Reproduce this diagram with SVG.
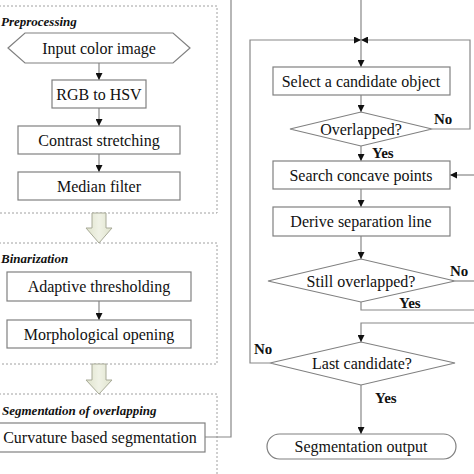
<svg xmlns="http://www.w3.org/2000/svg" width="474" height="474" viewBox="0 0 474 474">
<defs>
<marker id="ah" viewBox="0 0 10 10" refX="10" refY="5" markerWidth="7" markerHeight="7" orient="auto" markerUnits="userSpaceOnUse"><path d="M0,0 L10,5 L0,10 z" fill="#111"/></marker>
<linearGradient id="bg" x1="0" y1="0" x2="1" y2="0"><stop offset="0" stop-color="#dfe3cc"/><stop offset="0.5" stop-color="#f0f2e6"/><stop offset="1" stop-color="#dfe3cc"/></linearGradient>
</defs>
<style>
.t{font-size:16px;fill:#111;text-anchor:middle}
.b{font-size:15px;font-weight:bold;fill:#111}
.h{font-size:13px;font-weight:bold;font-style:italic;fill:#111}
.box{fill:#fff;stroke:#808080;stroke-width:1.2}
.grp{fill:none;stroke:#a0a0a0;stroke-width:1;stroke-dasharray:2,2}
.c{fill:none;stroke:#888;stroke-width:1.2}
.ca{fill:none;stroke:#888;stroke-width:1.2;marker-end:url(#ah)}
.blk{fill:url(#bg);stroke:#a8aa98;stroke-width:1}
</style>
<rect width="474" height="474" fill="#fff"/>
<g id="groups">
<rect class="grp" x="-5" y="6" width="222" height="207"/>
<text class="h" x="1" y="26" font-family="Liberation Serif">Preprocessing</text>
<rect class="grp" x="-5" y="243" width="222" height="121"/>
<text class="h" x="1" y="263" font-family="Liberation Serif">Binarization</text>
<rect class="grp" x="-5" y="394" width="222" height="90"/>
<text class="h" x="2" y="415" font-family="Liberation Serif">Segmentation of overlapping</text>
</g>
<g id="block-arrows">
<path class="blk" d="M92,213 L106,213 L106,228 L112,228 L99,243 L86,228 L92,228 z"/>
<path class="blk" d="M92,364 L106,364 L106,380 L112,380 L99,394 L86,380 L92,380 z"/>
</g>
<g id="connectors">
<line class="ca" x1="99" y1="63" x2="99" y2="80"/>
<line class="ca" x1="99" y1="108" x2="99" y2="126"/>
<line class="ca" x1="99" y1="154" x2="99" y2="172"/>
<line class="ca" x1="99" y1="301" x2="99" y2="320"/>
<polyline class="c" points="205,437 231,437 231,-2"/>
<line class="c" x1="361" y1="-2" x2="361" y2="40"/>
<polyline class="ca" points="270,363 250,363 250,40 361,40"/>
<polyline class="ca" points="432,129 470,129 470,40 361,40"/>
<line class="ca" x1="361" y1="40" x2="361" y2="67"/>
<line class="ca" x1="361" y1="95" x2="361" y2="112"/>
<line class="ca" x1="361" y1="146" x2="361" y2="161"/>
<line class="ca" x1="361" y1="189" x2="361" y2="207"/>
<line class="ca" x1="361" y1="236" x2="361" y2="259"/>
<line class="ca" x1="476" y1="175" x2="450" y2="175"/>
<line class="c" x1="455" y1="281" x2="476" y2="281"/>
<polyline class="c" points="361,302 361,310 476,310"/>
<polyline class="ca" points="476,323 361,323 361,342"/>
<line class="ca" x1="361" y1="385" x2="361" y2="434"/>
</g>
<g id="input">
<polygon class="box" points="8,48 25,33 173,33 190,48 173,63 25,63"/>
<text class="t" x="99" y="53.5" font-family="Liberation Serif">Input color image</text>
</g>
<g id="rgb">
<rect class="box" x="52" y="80" width="94" height="28"/>
<text class="t" x="99" y="99.5" font-family="Liberation Serif">RGB to HSV</text>
</g>
<g id="contrast">
<rect class="box" x="18" y="126" width="162" height="28"/>
<text class="t" x="99" y="145.5" font-family="Liberation Serif">Contrast stretching</text>
</g>
<g id="median">
<rect class="box" x="18" y="172" width="162" height="28"/>
<text class="t" x="99" y="191.5" font-family="Liberation Serif">Median filter</text>
</g>
<g id="adaptive">
<rect class="box" x="7" y="272" width="184" height="29"/>
<text class="t" x="99" y="292" font-family="Liberation Serif">Adaptive thresholding</text>
</g>
<g id="morph">
<rect class="box" x="7" y="320" width="184" height="28"/>
<text class="t" x="99" y="339.5" font-family="Liberation Serif">Morphological opening</text>
</g>
<g id="curvature">
<rect class="box" x="-2" y="423" width="207" height="29"/>
<text class="t" x="100" y="443" font-family="Liberation Serif">Curvature based segmentation</text>
</g>
<g id="select">
<rect class="box" x="273" y="67" width="177" height="28"/>
<text class="t" x="361" y="86.5" font-family="Liberation Serif">Select a candidate object</text>
</g>
<g id="overlapped">
<polygon class="box" points="290,129 361,112 432,129 361,146"/>
<text class="t" x="361" y="134.5" font-family="Liberation Serif">Overlapped?</text>
<text class="b" x="434" y="124" font-family="Liberation Serif">No</text>
<text class="b" x="372" y="158" font-family="Liberation Serif">Yes</text>
</g>
<g id="search">
<rect class="box" x="273" y="161" width="177" height="28"/>
<text class="t" x="361" y="180.5" font-family="Liberation Serif">Search concave points</text>
</g>
<g id="derive">
<rect class="box" x="273" y="207" width="177" height="29"/>
<text class="t" x="361" y="226.5" font-family="Liberation Serif">Derive separation line</text>
</g>
<g id="still">
<polygon class="box" points="268,281 361,259 455,281 361,302"/>
<text class="t" x="361" y="286.5" font-family="Liberation Serif">Still overlapped?</text>
<text class="b" x="450" y="276" font-family="Liberation Serif">No</text>
<text class="b" x="399" y="308" font-family="Liberation Serif">Yes</text>
</g>
<g id="last">
<polygon class="box" points="270,363 361,342 455,363 361,385"/>
<text class="t" x="362" y="368.5" font-family="Liberation Serif">Last candidate?</text>
<text class="b" x="254" y="354" font-family="Liberation Serif">No</text>
<text class="b" x="375" y="403" font-family="Liberation Serif">Yes</text>
</g>
<g id="output">
<rect class="box" x="267" y="434" width="189" height="25" rx="12.5"/>
<text class="t" x="361" y="452" font-family="Liberation Serif">Segmentation output</text>
</g>
</svg>
